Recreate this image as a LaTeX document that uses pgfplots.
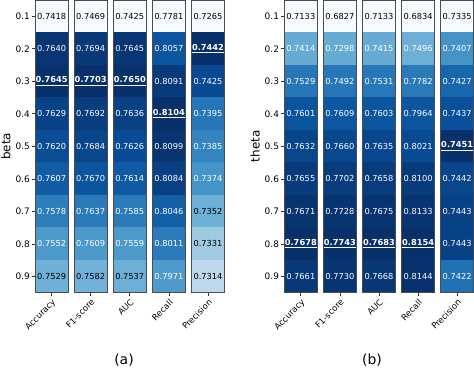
\documentclass[border=0pt]{standalone}
\usepackage{pgfplots}
\pgfplotsset{compat=1.18}
\usepackage{pgfplotstable}
\usepackage{fontspec}
\setmainfont{DejaVu Sans}

\pgfplotstableread{
p   acc    f1     auc    rec    prec
0.1 0.7418 0.7469 0.7425 0.7781 0.7265
0.2 0.7640 0.7694 0.7645 0.8057 0.7442
0.3 0.7645 0.7703 0.7650 0.8091 0.7425
0.4 0.7629 0.7692 0.7636 0.8104 0.7395
0.5 0.7620 0.7684 0.7626 0.8099 0.7385
0.6 0.7607 0.7670 0.7614 0.8084 0.7374
0.7 0.7578 0.7637 0.7585 0.8046 0.7352
0.8 0.7552 0.7609 0.7559 0.8011 0.7331
0.9 0.7529 0.7582 0.7537 0.7971 0.7314
}\taba

\pgfplotstableread{
p   acc    f1     auc    rec    prec
0.1 0.7133 0.6827 0.7133 0.6834 0.7335
0.2 0.7414 0.7298 0.7415 0.7496 0.7407
0.3 0.7529 0.7492 0.7531 0.7782 0.7427
0.4 0.7601 0.7609 0.7603 0.7964 0.7437
0.5 0.7632 0.7660 0.7635 0.8021 0.7451
0.6 0.7655 0.7702 0.7658 0.8100 0.7442
0.7 0.7671 0.7728 0.7675 0.8133 0.7443
0.8 0.7678 0.7743 0.7683 0.8154 0.7443
0.9 0.7661 0.7730 0.7668 0.8144 0.7422
}\tabb

\pgfdeclareplotmark{cell}{\pgfpathrectangle{\pgfpoint{-16.6bp}{-16.45bp}}{\pgfpoint{33.2bp}{32.9bp}}\pgfusepathqfill}

\newcommand\cellbest[1]{\setbox0\hbox{\textbf{#1}}\rlap{\rule[-3bp]{\wd0}{1.1bp}}\box0}

\pgfplotsset{
  colormap={blues}{rgb255=(247,251,255) rgb255=(222,235,247) rgb255=(198,219,239) rgb255=(158,202,225) rgb255=(107,174,214) rgb255=(66,146,198) rgb255=(33,113,181) rgb255=(8,81,156) rgb255=(8,48,107)},
  heat/.style={anchor=south west, scale only axis, width=33.2bp, height=292.7bp,
    xmin=-0.5, xmax=0.5, ymin=0.05, ymax=0.95, y dir=reverse, axis on top,
    xtick={0}, tick align=outside, xtick pos=bottom, ytick pos=left,
    major tick length=3.5bp,
    axis line style={black!75, line width=0.9bp},
    tick style={black!80, line width=0.7bp},
    xticklabel style={rotate=45, anchor=north east, font=\fontsize{8.5}{10}\selectfont, inner sep=1.5bp},
    yticklabel style={font=\fontsize{9}{10}\selectfont, inner sep=1.5bp},
    ylabel style={font=\fontsize{12}{14}\selectfont},
    /pgf/number format/assume math mode=true,
    colormap name=blues,
    after end axis/.code={\draw[black!70, line width=0.9bp] (rel axis cs:0,0) rectangle (rel axis cs:1,1);},
  }
}

% #1 table, #2 column, #3 x position (bp), #4 label, #5 extra options
\newcommand\heatcol[5]{%
\begin{axis}[heat, at={(#3bp,79.3bp)}, xticklabels={#4}, #5]
\addplot[scatter, only marks, mark=cell, point meta=\thisrow{#2},
  scatter/use mapped color={draw=none, fill=mapped color}]
  table[x expr=0, y=p] {#1};
\addplot[only marks, mark=none, point meta=\thisrow{#2},
  /pgf/number format/fixed, /pgf/number format/fixed zerofill, /pgf/number format/precision=4,
  nodes near coords={\ifdim\pgfplotspointmetatransformed pt>500pt\color{white}\else\color{black}\fi
    \ifdim\pgfplotspointmetatransformed pt>999pt\cellbest{\pgfmathprintnumber{\pgfplotspointmeta}}\else\pgfmathprintnumber{\pgfplotspointmeta}\fi},
  nodes near coords align={center},
  every node near coord/.append style={font=\fontsize{8.3}{10}\selectfont, inner sep=0pt}]
  table[x expr=0, y=p] {#1};
\end{axis}}

\begin{document}
\begin{tikzpicture}
\useasboundingbox (0,0) rectangle (474bp,372bp);
\heatcol{\taba}{acc}{35}{Accuracy}{ytick={0.1,0.2,0.3,0.4,0.5,0.6,0.7,0.8,0.9}, yticklabels={0.1,0.2,0.3,0.4,0.5,0.6,0.7,0.8,0.9}, ylabel={beta}}
\heatcol{\taba}{f1}{74.1}{F1-score}{ytick=\empty}
\heatcol{\taba}{auc}{113.2}{AUC}{ytick=\empty}
\heatcol{\taba}{rec}{152.3}{Recall}{ytick=\empty}
\heatcol{\taba}{prec}{191.4}{Precision}{ytick=\empty}

\heatcol{\tabb}{acc}{284.2}{Accuracy}{ytick={0.1,0.2,0.3,0.4,0.5,0.6,0.7,0.8,0.9}, yticklabels={0.1,0.2,0.3,0.4,0.5,0.6,0.7,0.8,0.9}, ylabel={theta}}
\heatcol{\tabb}{f1}{323.3}{F1-score}{ytick=\empty}
\heatcol{\tabb}{auc}{362.4}{AUC}{ytick=\empty}
\heatcol{\tabb}{rec}{401.5}{Recall}{ytick=\empty}
\heatcol{\tabb}{prec}{440.6}{Precision}{ytick=\empty}

\node at (124bp,12bp) {\fontsize{14}{16}\selectfont (a)};
\node at (372bp,12bp) {\fontsize{14}{16}\selectfont (b)};
\end{tikzpicture}
\end{document}
